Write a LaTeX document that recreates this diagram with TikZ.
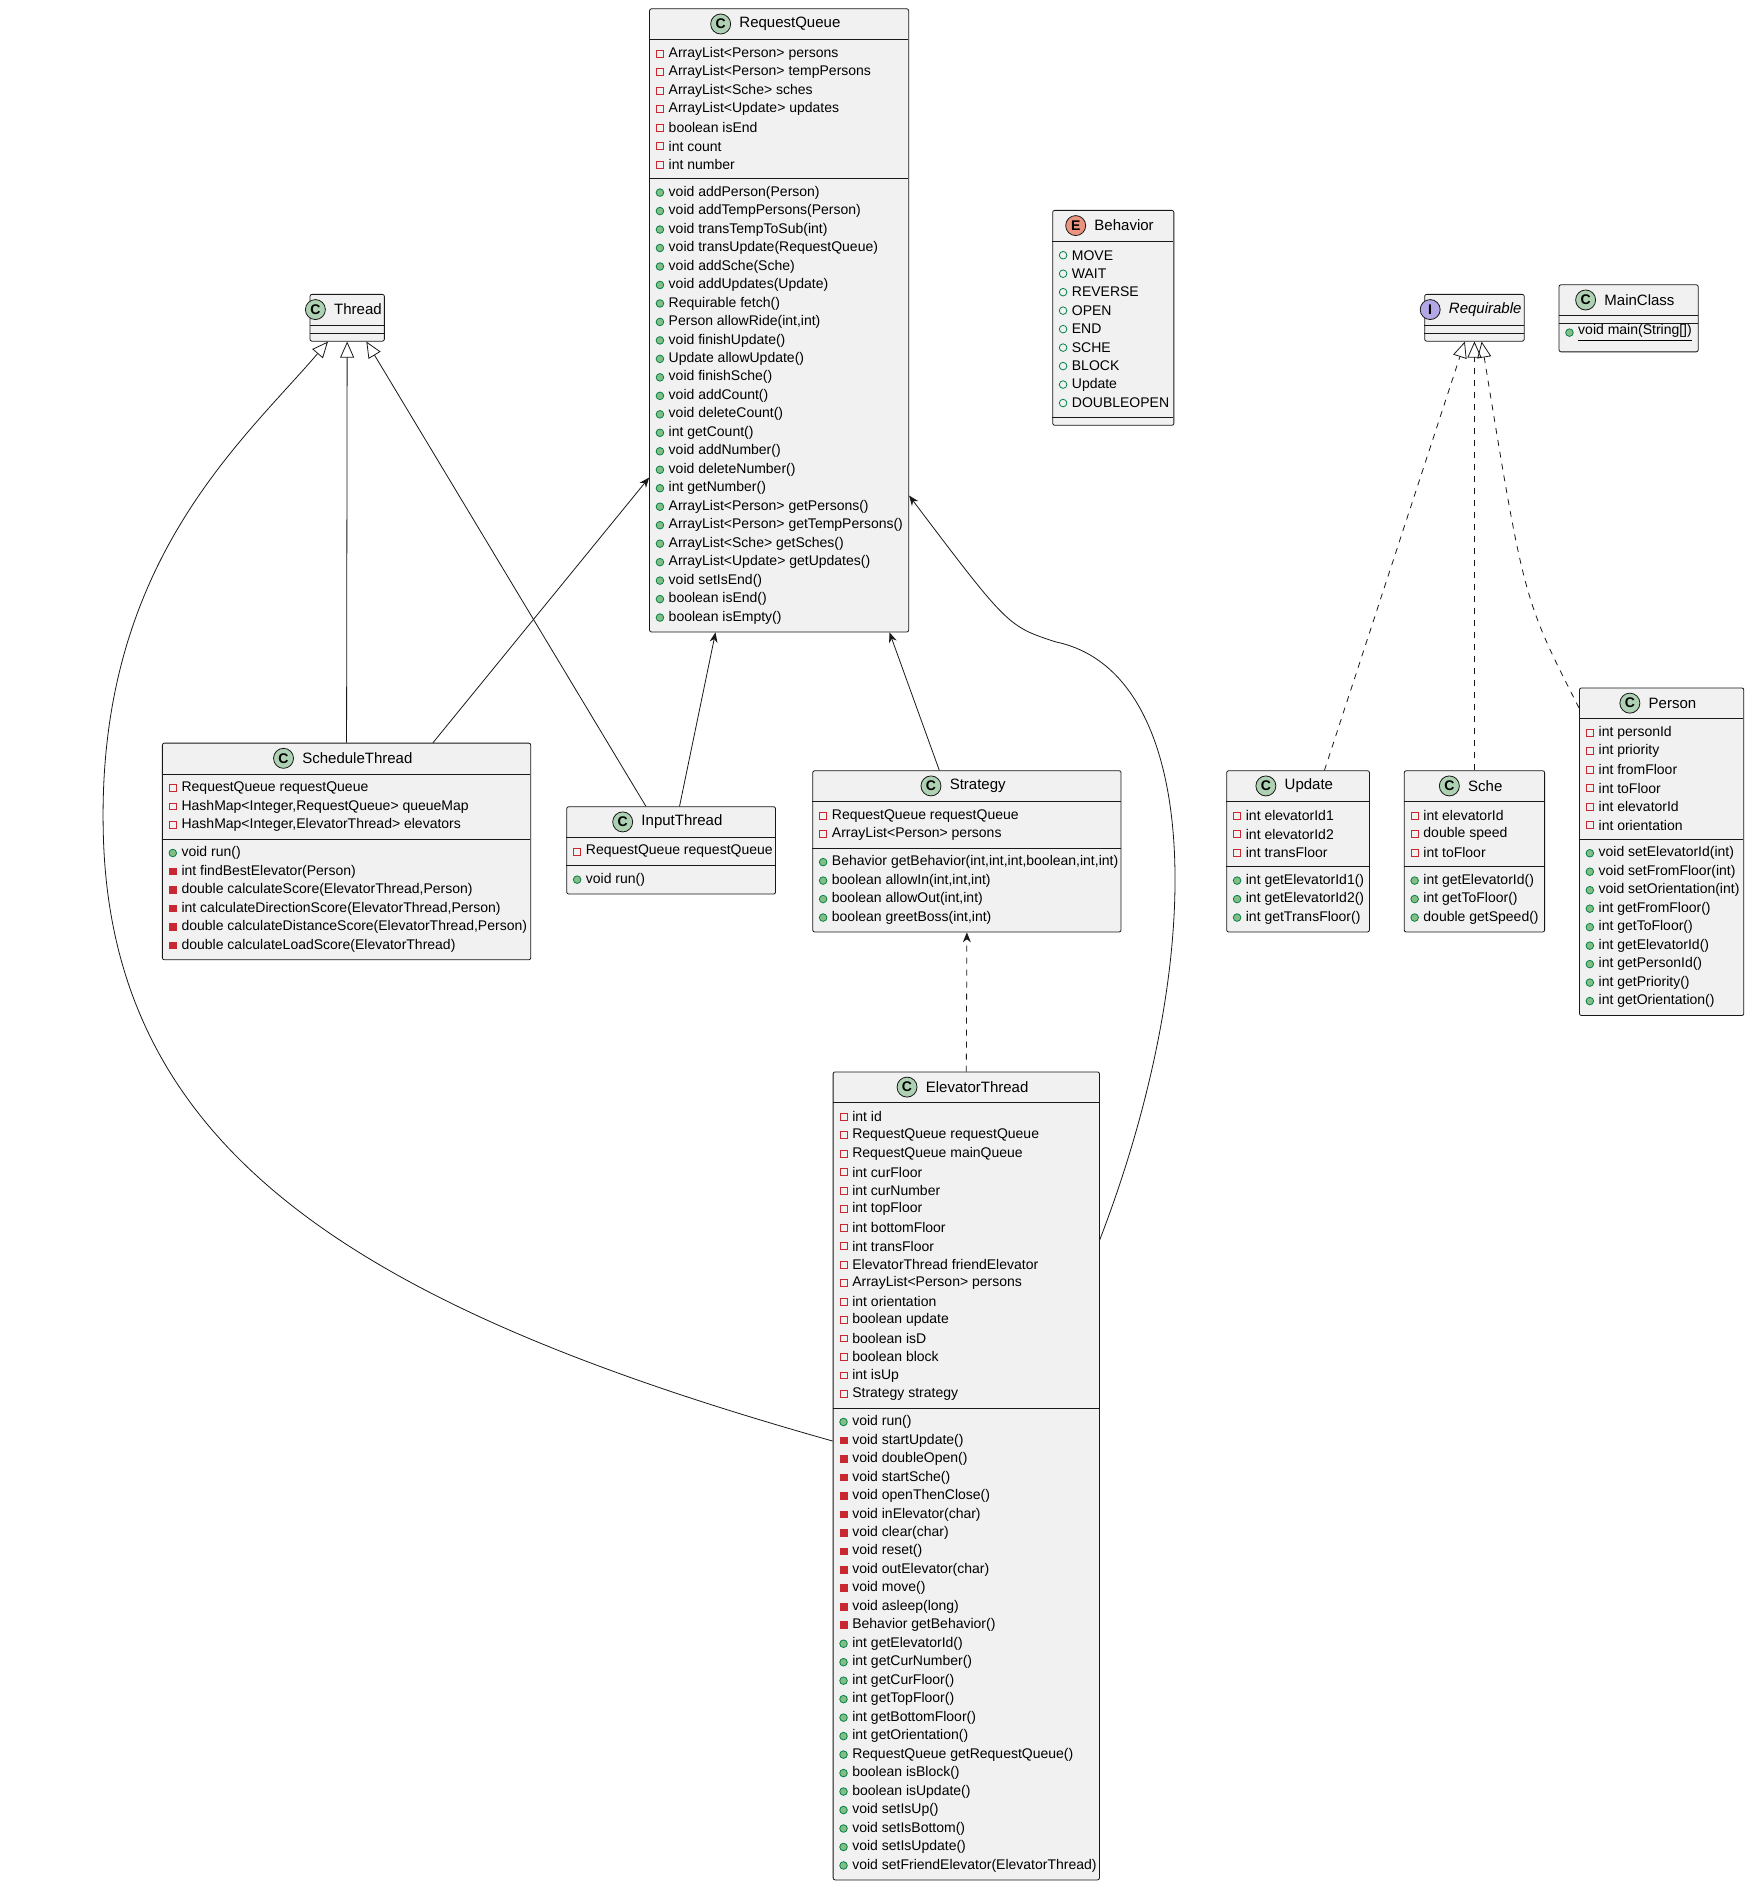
\documentclass[tikz,border=0pt]{standalone}
\usepackage{fontspec}
\setmainfont{Liberation Sans}
\usetikzlibrary{arrows.meta,calc,positioning}
\definecolor{boxfill}{HTML}{F1F1F1}
\definecolor{boxline}{HTML}{181818}
\definecolor{cfill}{HTML}{ADD1B2}
\definecolor{efill}{HTML}{EB937F}
\definecolor{ifill}{HTML}{B4A7E5}
\definecolor{privred}{HTML}{C82930}
\definecolor{pubgreen}{HTML}{038048}
\definecolor{publight}{HTML}{84BE84}

\tikzset{%
  umlbox/.style={draw=boxline, fill=boxfill, rounded corners=1pt, inner sep=0pt},
  umltitle/.style={font=\fontsize{7.5}{9}\selectfont, inner sep=0pt},
  member/.style={font=\fontsize{7}{8.5}\selectfont, anchor=west, inner sep=0pt},
  stereo/.style={circle, draw=boxline, minimum size=10pt, inner sep=0pt,
    font=\fontsize{7}{8}\selectfont\bfseries},
  vis pf/.style={draw=privred, fill=none, minimum size=3.4pt, inner sep=0pt},
  vis pm/.style={draw=privred, fill=privred, minimum size=3.4pt, inner sep=0pt},
  vis pub/.style={circle, draw=pubgreen, fill=publight, minimum size=3.8pt, inner sep=0pt},
  vis ef/.style={circle, draw=pubgreen, fill=none, minimum size=3.8pt, inner sep=0pt},
  extends/.style={draw=boxline, -{Triangle[open,length=8pt,width=7pt]}},
  realizes/.style={extends, dashed},
  uses/.style={draw=boxline, -{Stealth[length=5pt,width=4pt]}},
}

% box with header: name, letter, colour, x, y, width, #fields, #methods, title
\newcommand{\umlhead}[9]{%
  \pgfmathsetmacro\hf{#7==0 ? 6.5 : #7*15.4+8}
  \pgfmathsetmacro\hm{#8==0 ? 6.5 : #8*15.4+8}
  \pgfmathsetmacro\htot{26+\hf+\hm}
  \node[umlbox, minimum width=#6*0.6pt, minimum height=\htot*0.6pt,
    anchor=north west] (#1) at (#4,#5) {};
  \draw[boxline] ($(#1.north west)+(0,26)$) -- ++(#6,0);
  \draw[boxline] ($(#1.north west)+(0,26+\hf)$) -- ++(#6,0);
  \node[umltitle] (#1-title) at ($(#1.north)+(9,13)$) {#9};
  \node[stereo, fill=#3, left=4pt of #1-title] (#1-icon) {#2};
}
% member lines: name, offset, list of vis/text
\newcommand{\umllines}[3]{%
  \foreach \v/\t [count=\i] in {#3} {
    \node[vis \v] at ($(#1.north west)+(9,#2+\i*15.4-7.7)$) {};
    \node[member] at ($(#1.north west)+(16,#2+\i*15.4-7.7)$) {\t};
  }
}

\begin{document}
\begin{tikzpicture}[x=0.6pt, y=-0.6pt]
\useasboundingbox (0,0) rectangle (1470,1581);

% classes
\umlhead{queue}{C}{cfill}{541}{7}{216}{7}{24}{RequestQueue}
\umllines{queue}{30}{pf/{ArrayList<Person> persons}, pf/{ArrayList<Person> tempPersons},
  pf/{ArrayList<Sche> sches}, pf/{ArrayList<Update> updates}, pf/{boolean isEnd},
  pf/{int count}, pf/{int number}}
\umllines{queue}{145.8}{pub/{void addPerson(Person)}, pub/{void addTempPersons(Person)},
  pub/{void transTempToSub(int)}, pub/{void transUpdate(RequestQueue)},
  pub/{void addSche(Sche)}, pub/{void addUpdates(Update)}, pub/{Requirable fetch()},
  pub/{Person allowRide(int,int)}, pub/{void finishUpdate()}, pub/{Update allowUpdate()},
  pub/{void finishSche()}, pub/{void addCount()}, pub/{void deleteCount()},
  pub/{int getCount()}, pub/{void addNumber()}, pub/{void deleteNumber()},
  pub/{int getNumber()}, pub/{ArrayList<Person> getPersons()},
  pub/{ArrayList<Person> getTempPersons()}, pub/{ArrayList<Sche> getSches()},
  pub/{ArrayList<Update> getUpdates()}, pub/{void setIsEnd()}, pub/{boolean isEnd()},
  pub/{boolean isEmpty()}}

\umlhead{behavior}{E}{efill}{877}{175}{101}{9}{0}{Behavior}
\umllines{behavior}{30}{ef/MOVE, ef/WAIT, ef/REVERSE, ef/OPEN, ef/END, ef/SCHE,
  ef/BLOCK, ef/Update, ef/DOUBLEOPEN}

\umlhead{thread}{C}{cfill}{258}{245}{62}{0}{0}{Thread}
\umlhead{requirable}{I}{ifill}{1187}{245}{83}{0}{0}{\textit{Requirable}}
\umlhead{mainclass}{C}{cfill}{1299}{237}{116}{0}{1}{MainClass}
\umllines{mainclass}{32.5}{pub/{\underline{void main(String[])}}}

\umlhead{schedule}{C}{cfill}{135}{619}{307}{3}{6}{ScheduleThread}
\umllines{schedule}{30}{pf/{RequestQueue requestQueue},
  pf/{HashMap<Integer,RequestQueue> queueMap}, pf/{HashMap<Integer,ElevatorThread> elevators}}
\umllines{schedule}{84.2}{pub/{void run()}, pm/{int findBestElevator(Person)},
  pm/{double calculateScore(ElevatorThread,Person)},
  pm/{int calculateDirectionScore(ElevatorThread,Person)},
  pm/{double calculateDistanceScore(ElevatorThread,Person)},
  pm/{double calculateLoadScore(ElevatorThread)}}

\umlhead{input}{C}{cfill}{472}{672}{174}{1}{1}{InputThread}
\umllines{input}{30}{pf/{RequestQueue requestQueue}}
\umllines{input}{53.4}{pub/{void run()}}

\umlhead{strategy}{C}{cfill}{677}{642}{257}{2}{4}{Strategy}
\umllines{strategy}{30}{pf/{RequestQueue requestQueue}, pf/{ArrayList<Person> persons}}
\umllines{strategy}{68.8}{pub/{Behavior getBehavior(int,int,int,boolean,int,int)},
  pub/{boolean allowIn(int,int,int)}, pub/{boolean allowOut(int,int)},
  pub/{boolean greetBoss(int,int)}}

\umlhead{update}{C}{cfill}{1022}{642}{119}{3}{3}{Update}
\umllines{update}{30}{pf/{int elevatorId1}, pf/{int elevatorId2}, pf/{int transFloor}}
\umllines{update}{84.2}{pub/{int getElevatorId1()}, pub/{int getElevatorId2()},
  pub/{int getTransFloor()}}

\umlhead{sche}{C}{cfill}{1170}{642}{117}{3}{3}{Sche}
\umllines{sche}{30}{pf/{int elevatorId}, pf/{double speed}, pf/{int toFloor}}
\umllines{sche}{84.2}{pub/{int getElevatorId()}, pub/{int getToFloor()},
  pub/{double getSpeed()}}

\umlhead{person}{C}{cfill}{1316}{573}{137}{6}{9}{Person}
\umllines{person}{30}{pf/{int personId}, pf/{int priority}, pf/{int fromFloor},
  pf/{int toFloor}, pf/{int elevatorId}, pf/{int orientation}}
\umllines{person}{130.4}{pub/{void setElevatorId(int)}, pub/{void setFromFloor(int)},
  pub/{void setOrientation(int)}, pub/{int getFromFloor()}, pub/{int getToFloor()},
  pub/{int getElevatorId()}, pub/{int getPersonId()}, pub/{int getPriority()},
  pub/{int getOrientation()}}

\umlhead{elevator}{C}{cfill}{694}{893}{222}{16}{25}{ElevatorThread}
\umllines{elevator}{30}{pf/{int id}, pf/{RequestQueue requestQueue},
  pf/{RequestQueue mainQueue}, pf/{int curFloor}, pf/{int curNumber}, pf/{int topFloor},
  pf/{int bottomFloor}, pf/{int transFloor}, pf/{ElevatorThread friendElevator},
  pf/{ArrayList<Person> persons}, pf/{int orientation}, pf/{boolean update},
  pf/{boolean isD}, pf/{boolean block}, pf/{int isUp}, pf/{Strategy strategy}}
\umllines{elevator}{284.4}{pub/{void run()}, pm/{void startUpdate()},
  pm/{void doubleOpen()}, pm/{void startSche()}, pm/{void openThenClose()},
  pm/{void inElevator(char)}, pm/{void clear(char)}, pm/{void reset()},
  pm/{void outElevator(char)}, pm/{void move()}, pm/{void asleep(long)},
  pm/{Behavior getBehavior()}, pub/{int getElevatorId()}, pub/{int getCurNumber()},
  pub/{int getCurFloor()}, pub/{int getTopFloor()}, pub/{int getBottomFloor()},
  pub/{int getOrientation()}, pub/{RequestQueue getRequestQueue()},
  pub/{boolean isBlock()}, pub/{boolean isUpdate()}, pub/{void setIsUp()},
  pub/{void setIsBottom()}, pub/{void setIsUpdate()},
  pub/{void setFriendElevator(ElevatorThread)}}

% inheritance
\draw[extends] (schedule.north) -- (thread.south);
\draw[extends] ($(input.north)+(-21,0)$) -- ($(thread.south)+(16,0)$);
\draw[extends] ($(elevator.north west)+(0,308)$)
  .. controls (300,1090) and (90,960) .. (86,690)
  .. controls (82,470) and (200,370) .. ($(thread.south)+(-16,0)$);

% realization
\draw[realizes] ($(update.north)+(22,0)$) -- ($(requirable.south)+(-8,0)$);
\draw[realizes] (sche.north) -- (requirable.south);
\draw[realizes] ($(person.north west)+(0,17)$)
  .. controls (1270,500) .. ($(requirable.south)+(6,0)$);

% associations
\draw[uses] ($(schedule.north)+(72,0)$) -- ($(queue.north west)+(0,391)$);
\draw[uses] ($(input.north)+(7,0)$) -- ($(queue.south)+(-53,0)$);
\draw[uses] ($(strategy.north)+(-23,0)$) -- ($(queue.south)+(92,0)$);
\draw[uses] ($(elevator.north east)+(0,140)$)
  .. controls (1010,790) and (1000,560) .. (880,535)
  .. controls (840,522) .. ($(queue.north east)+(0,406)$);
\draw[uses, dashed] (elevator.north) -- (strategy.south);
\end{tikzpicture}
\end{document}
